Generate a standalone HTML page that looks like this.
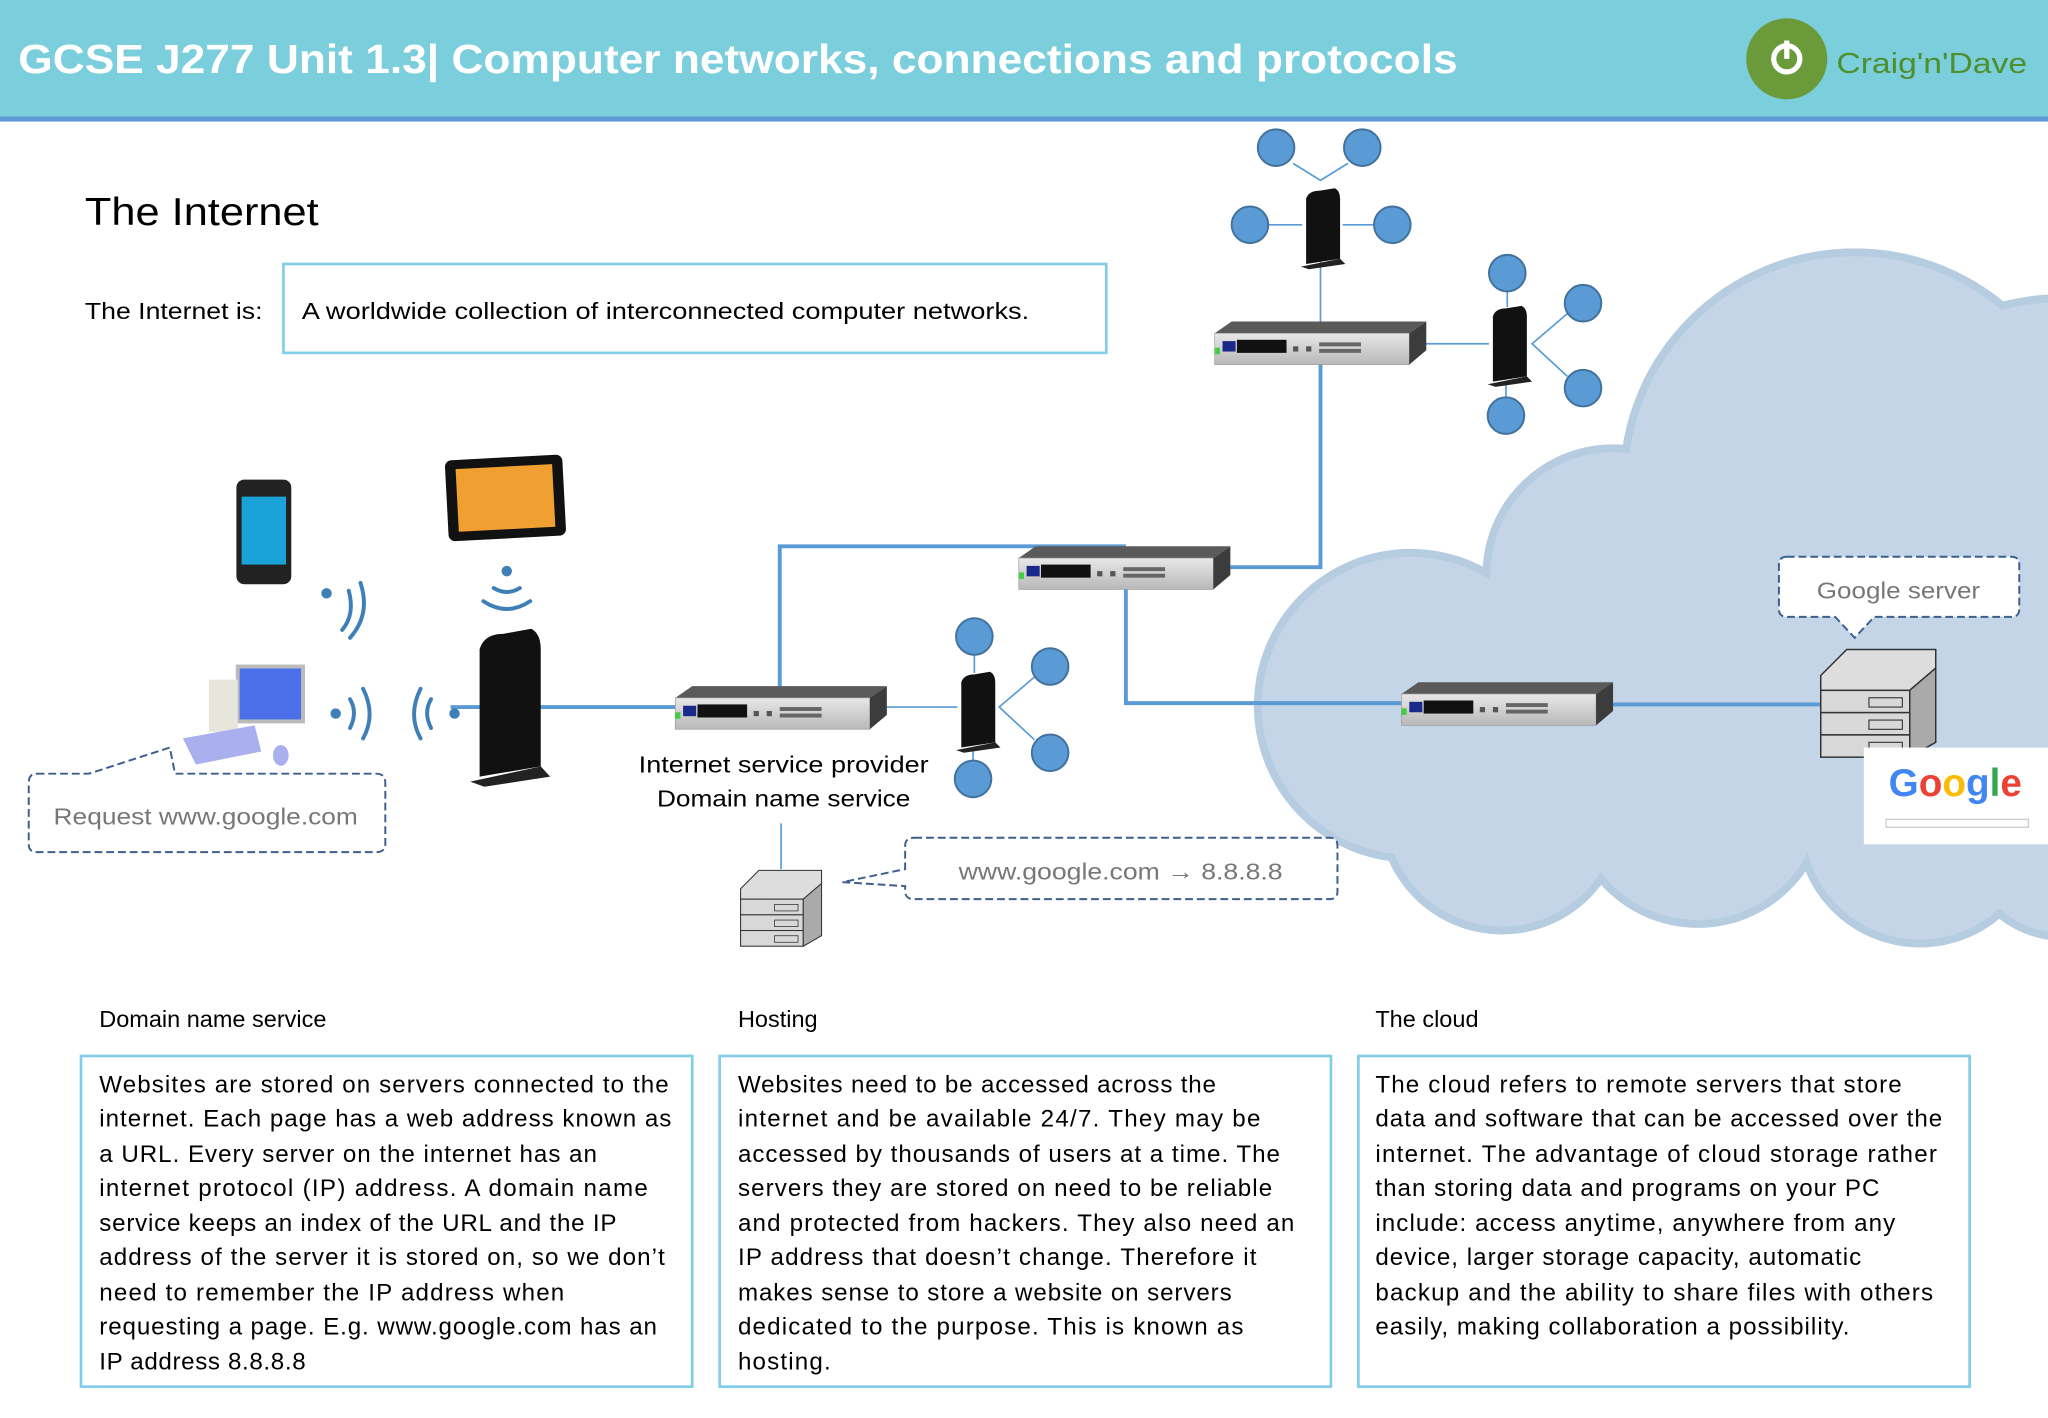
<!DOCTYPE html>
<html><head><meta charset="utf-8"><style>
html,body{margin:0;padding:0;background:#fff;}
svg{display:block;}
text{font-family:"Liberation Sans",sans-serif;}
</style></head><body>
<svg width="2048" height="1418" viewBox="0 0 1568 1085" preserveAspectRatio="none" xmlns="http://www.w3.org/2000/svg">
<defs>
<linearGradient id="sf" x1="0" y1="0" x2="0" y2="1"><stop offset="0" stop-color="#e8e8e8"/><stop offset="1" stop-color="#b8b8b8"/></linearGradient>
<g id="sw">
<polygon points="0,9 13,0 162,0 149,9" fill="#5a5a5a"/>
<rect x="0" y="9" width="149" height="24" fill="url(#sf)" stroke="#999" stroke-width="0.5"/>
<polygon points="149,9 162,0 162,22 149,33" fill="#3c3c3c"/>
<rect x="0" y="20" width="4" height="5" fill="#4c4"/>
<rect x="6" y="15" width="10" height="8" fill="#1a2a8a"/>
<rect x="17" y="14" width="38" height="10" fill="#111"/>
<rect x="60" y="19" width="4" height="4" fill="#555"/><rect x="70" y="19" width="4" height="4" fill="#555"/>
<rect x="80" y="16" width="32" height="3" fill="#666"/><rect x="80" y="21" width="32" height="3" fill="#666"/>
</g>
<g id="rt">
<path d="M4,6 Q6,0 14,0 L26,-2 Q30,0 30,6 L30,52 L4,56 Z" fill="#111"/>
<polygon points="0,58 30,52 34,56 6,60" fill="#222"/>
</g>
<g id="srv">
<polygon points="0,14 14,0 62,0 62,10 48,22 0,22" fill="#ddd" stroke="#333" stroke-width="0.8"/>
<rect x="0" y="22" width="48" height="12" fill="#d8d8d8" stroke="#333" stroke-width="0.8"/>
<rect x="0" y="34" width="48" height="12" fill="#d8d8d8" stroke="#333" stroke-width="0.8"/>
<rect x="0" y="46" width="48" height="12" fill="#d8d8d8" stroke="#333" stroke-width="0.8"/>
<polygon points="48,22 62,10 62,50 48,58" fill="#aaa" stroke="#333" stroke-width="0.8"/>
<rect x="26" y="26" width="18" height="5" fill="none" stroke="#333" stroke-width="0.6"/>
<rect x="26" y="38" width="18" height="5" fill="none" stroke="#333" stroke-width="0.6"/>
<rect x="26" y="50" width="18" height="5" fill="none" stroke="#333" stroke-width="0.6"/>
</g>
</defs>

<!-- header -->
<rect x="0" y="0" width="1568" height="89" fill="#7bcedb"/>
<rect x="0" y="89" width="1568" height="4" fill="#5b9bd5"/>
<text x="14" y="56" font-size="31" font-weight="bold" fill="#fff" textLength="1102" lengthAdjust="spacingAndGlyphs">GCSE J277 Unit 1.3| Computer networks, connections and protocols</text>
<circle cx="1368" cy="45" r="31" fill="#6b9a3a"/>
<circle cx="1368" cy="45" r="10" fill="none" stroke="#fff" stroke-width="4"/>
<rect x="1366" y="31" width="4" height="14" fill="#fff"/>
<text x="1406" y="56" font-size="22" fill="#4e8f2e" textLength="146" lengthAdjust="spacingAndGlyphs">Craig'n'Dave</text>

<!-- cloud -->
<g fill="#b6cce1">
<circle cx="1420" cy="370" r="180"/><circle cx="1580" cy="420" r="195"/><circle cx="1235" cy="440" r="100"/>
<circle cx="1080" cy="540" r="120"/><circle cx="1150" cy="620" r="95"/><circle cx="1300" cy="610" r="100"/>
<circle cx="1470" cy="630" r="95"/><circle cx="1300" cy="500" r="150"/><circle cx="1580" cy="640" r="80"/>
</g>
<g fill="#c3d5e6">
<circle cx="1420" cy="370" r="174"/><circle cx="1580" cy="420" r="189"/><circle cx="1235" cy="440" r="94"/>
<circle cx="1080" cy="540" r="114"/><circle cx="1150" cy="620" r="89"/><circle cx="1300" cy="610" r="94"/>
<circle cx="1470" cy="630" r="89"/><circle cx="1300" cy="500" r="144"/><circle cx="1580" cy="640" r="74"/>
</g>

<!-- The internet -->
<text x="65" y="172" font-size="30" fill="#000" textLength="179" lengthAdjust="spacingAndGlyphs">The Internet</text>
<text x="65" y="244" font-size="18" fill="#000" textLength="136" lengthAdjust="spacingAndGlyphs">The Internet is:</text>
<rect x="217" y="202" width="630" height="68" fill="none" stroke="#7fcde8" stroke-width="2"/>
<text x="231" y="244" font-size="18" fill="#000" textLength="557" lengthAdjust="spacingAndGlyphs">A worldwide collection of interconnected computer networks.</text>

<!-- thick links -->
<g stroke="#5b9bd5" stroke-width="3" fill="none">
<polyline points="345,541 520,541"/>
<polyline points="597,541 597,418 862,418"/>
<polyline points="942,434 1011,434 1011,277"/>
<polyline points="862,450 862,538 1075,538"/>
<polyline points="1234,539 1480,539"/>
</g>
<g stroke="#5b9bd5" stroke-width="1.3" fill="none">
<line x1="1011" y1="200" x2="1011" y2="247"/>
<line x1="1090" y1="263" x2="1140" y2="263"/>
<line x1="678" y1="541" x2="733" y2="541"/>
<line x1="598" y1="630" x2="598" y2="665"/>
<polyline points="990,125 1011,138 1032,125"/>
<line x1="971" y1="172" x2="997" y2="172"/><line x1="1028" y1="172" x2="1052" y2="172"/>
<line x1="1154" y1="223" x2="1154" y2="235"/><line x1="1153" y1="292" x2="1153" y2="304"/>
<polyline points="1200,240 1173,263 1200,288"/>
<line x1="746" y1="501" x2="746" y2="515"/><line x1="745" y1="572" x2="745" y2="582"/>
<polyline points="792,518 765,541 792,566"/>
</g>
<g fill="#5b9bd5" stroke="#41719c" stroke-width="1.5">
<circle cx="977" cy="113" r="14"/><circle cx="1043" cy="113" r="14"/><circle cx="957" cy="172" r="14"/><circle cx="1066" cy="172" r="14"/>
<circle cx="1154" cy="209" r="14"/><circle cx="1212" cy="232" r="14"/><circle cx="1212" cy="297" r="14"/><circle cx="1153" cy="318" r="14"/>
<circle cx="746" cy="487" r="14"/><circle cx="804" cy="510" r="14"/><circle cx="804" cy="576" r="14"/><circle cx="745" cy="596" r="14"/>
</g>

<!-- switches -->
<use href="#sw" transform="translate(517,525)"/>
<use href="#sw" transform="translate(780,418)"/>
<use href="#sw" transform="translate(930,246)"/>
<use href="#sw" transform="translate(1073,522)"/>

<!-- routers -->
<g transform="translate(996,146)"><use href="#rt"/></g>
<g transform="translate(1139,236)"><use href="#rt"/></g>
<g transform="translate(732,516)"><use href="#rt"/></g>
<g transform="translate(360,485) scale(1.8,1.95)"><use href="#rt"/></g>

<!-- devices -->
<rect x="181" y="367" width="42" height="80" rx="6" fill="#222"/>
<rect x="185" y="380" width="34" height="52" fill="#1aa3d8"/>
<rect x="342" y="350" width="90" height="62" rx="5" fill="#111" transform="rotate(-3 387 381)"/>
<rect x="350" y="357" width="74" height="48" fill="#f0a030" transform="rotate(-3 387 381)"/>
<rect x="182" y="510" width="50" height="42" fill="#4a6fe8" stroke="#bbb" stroke-width="3"/>
<rect x="160" y="520" width="22" height="40" fill="#e6e6dc"/>
<polygon points="140,565 195,555 200,575 150,585" fill="#aab0ee"/>
<ellipse cx="215" cy="578" rx="6" ry="8" fill="#aab0ee"/>
<!-- wifi marks -->
<g fill="none" stroke="#3f7fb8" stroke-width="3" stroke-linecap="round">
<path d="M262,482 q10,-12 5,-30"/><path d="M268,488 q16,-18 8,-42"/>
<path d="M268,535 q6,10 0,22"/><path d="M278,527 q10,20 0,38"/>
<path d="M330,535 q-6,10 0,22"/><path d="M322,527 q-10,20 0,38"/>
<path d="M378,450 q10,6 20,0"/><path d="M370,460 q18,12 36,0"/>
</g>
<g fill="#3f7fb8"><circle cx="250" cy="454" r="4"/><circle cx="257" cy="546" r="4"/><circle cx="348" cy="546" r="4"/><circle cx="388" cy="437" r="4"/></g>

<!-- callouts -->
<g fill="#fff" stroke="#3c5f8e" stroke-width="1.5" stroke-dasharray="6,3">
<path d="M28,592 L68,592 L130,572 L134,592 L288,592 Q295,592 295,599 L295,646 Q295,652 288,652 L28,652 Q22,652 22,646 L22,599 Q22,592 28,592 Z"/>
<path d="M700,641 L1018,641 Q1024,641 1024,647 L1024,682 Q1024,688 1018,688 L700,688 Q693,688 693,682 L693,678 L645,675 L693,665 L693,647 Q693,641 700,641 Z"/>
<path d="M1368,426 L1540,426 Q1546,426 1546,432 L1546,466 Q1546,472 1540,472 L1435,472 L1420,488 L1405,472 L1368,472 Q1362,472 1362,466 L1362,432 Q1362,426 1368,426 Z"/>
</g>
<text x="41" y="631" font-size="18" fill="#777" textLength="233" lengthAdjust="spacingAndGlyphs">Request www.google.com</text>
<text x="734" y="673" font-size="18" fill="#777" textLength="248" lengthAdjust="spacingAndGlyphs">www.google.com → 8.8.8.8</text>
<text x="1391" y="458" font-size="18" fill="#777" textLength="125" lengthAdjust="spacingAndGlyphs">Google server</text>

<text x="600" y="591" font-size="18" fill="#000" text-anchor="middle" textLength="222" lengthAdjust="spacingAndGlyphs">Internet service provider</text>
<text x="600" y="617" font-size="18" fill="#000" text-anchor="middle" textLength="194" lengthAdjust="spacingAndGlyphs">Domain name service</text>

<!-- servers -->
<g transform="translate(567,666)"><use href="#srv"/></g>
<g transform="translate(1394,497) scale(1.42,1.42)"><use href="#srv"/></g>
<rect x="1427" y="572" width="141" height="74" fill="#fff"/>
<text x="1446" y="609" font-size="30" font-weight="bold" textLength="102" lengthAdjust="spacingAndGlyphs"><tspan fill="#4285f4">G</tspan><tspan fill="#ea4335">o</tspan><tspan fill="#fbbc05">o</tspan><tspan fill="#4285f4">g</tspan><tspan fill="#34a853">l</tspan><tspan fill="#ea4335">e</tspan></text>
<rect x="1444" y="627" width="109" height="6" fill="none" stroke="#ccc"/>

<!-- sections -->
<g font-size="18" fill="#000">
<text x="76" y="786">Domain name service</text>
<text x="565" y="786">Hosting</text>
<text x="1053" y="786">The cloud</text>
</g>
<g fill="none" stroke="#7fcde8" stroke-width="2">
<rect x="62" y="808" width="468" height="253"/>
<rect x="551" y="808" width="468" height="253"/>
<rect x="1040" y="808" width="468" height="253"/>
</g>
<g font-size="18.5" fill="#000" lengthAdjust="spacingAndGlyphs">
<text x="76" y="836" textLength="436">Websites are stored on servers connected to the</text>
<text x="76" y="862" textLength="438">internet.  Each page has a web address known as</text>
<text x="76" y="889" textLength="381">a URL.  Every server on the internet has an</text>
<text x="76" y="915" textLength="420">internet protocol (IP) address.  A domain name</text>
<text x="76" y="942" textLength="396">service keeps an index of the URL and the IP</text>
<text x="76" y="968" textLength="433">address of the server it is stored on, so we don’t</text>
<text x="76" y="995" textLength="356">need to remember the IP address when</text>
<text x="76" y="1021" textLength="427">requesting a page. E.g. www.google.com has an</text>
<text x="76" y="1048" textLength="158">IP address 8.8.8.8</text>

<text x="565" y="836" textLength="366">Websites need to be accessed across the</text>
<text x="565" y="862" textLength="400">internet and be available 24/7.  They may be</text>
<text x="565" y="889" textLength="415">accessed by thousands of users at a time.  The</text>
<text x="565" y="915" textLength="409">servers they are stored on need to be reliable</text>
<text x="565" y="942" textLength="426">and protected from hackers.  They also need an</text>
<text x="565" y="968" textLength="397">IP address that doesn’t change.  Therefore it</text>
<text x="565" y="995" textLength="378">makes sense to store a website on servers</text>
<text x="565" y="1021" textLength="387">dedicated to the purpose.  This is known as</text>
<text x="565" y="1048" textLength="71">hosting.</text>

<text x="1053" y="836" textLength="403">The cloud refers to remote servers that store</text>
<text x="1053" y="862" textLength="434">data and software that can be accessed over the</text>
<text x="1053" y="889" textLength="430">internet.  The advantage of cloud storage rather</text>
<text x="1053" y="915" textLength="386">than storing data and programs on your PC</text>
<text x="1053" y="942" textLength="398">include: access anytime, anywhere from any</text>
<text x="1053" y="968" textLength="372">device, larger storage capacity, automatic</text>
<text x="1053" y="995" textLength="427">backup and the ability to share files with others</text>
<text x="1053" y="1021" textLength="363">easily, making collaboration a possibility.</text>
</g>
</svg>
</body></html>
